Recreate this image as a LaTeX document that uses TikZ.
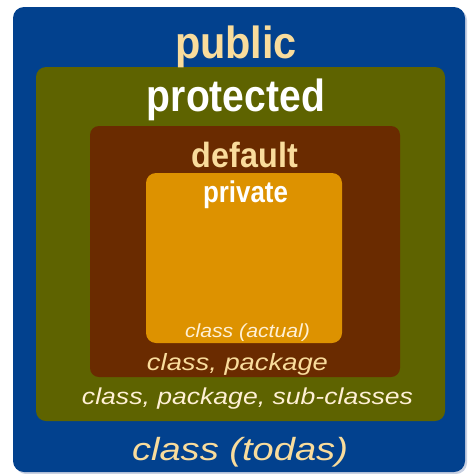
\documentclass[tikz,border=0pt]{standalone}
\usepackage{fontspec}
\setmainfont{Liberation Sans}
\usepackage{graphicx}
\definecolor{cblue}{HTML}{02418E}
\definecolor{colive}{HTML}{5E6300}
\definecolor{cbrown}{HTML}{6A2B00}
\definecolor{corange}{HTML}{DD9200}
\definecolor{cyel}{HTML}{F9DC9C}
\definecolor{ccream}{HTML}{FFF0D4}
\definecolor{cshadow}{HTML}{C9D1E2}
\newcommand{\fitw}[3]{\resizebox{#1pt}{\height}{\fontsize{#2}{#2}\selectfont #3}}
\tikzset{
  zone/.style={draw=none},
  lbl/.style={anchor=base, inner sep=0pt, outer sep=0pt},
  bold/.style={lbl, font=\bfseries},
  ital/.style={lbl, font=\itshape}
}
\begin{document}
\begin{tikzpicture}[x=1pt,y=-1pt]
\useasboundingbox (0,0) rectangle (474,474);
\fill[cshadow, rounded corners=11pt] (15,9) rectangle (467,474);
\fill[cblue, rounded corners=11pt] (13,7) rectangle (465,472);
\fill[colive, rounded corners=10pt] (36,67) rectangle (445,421);
\fill[cbrown, rounded corners=9pt] (90,126) rectangle (400,377);
\fill[corange, rounded corners=10pt] (146,173) rectangle (342,343);
\node[bold, text=cyel] (pub) at (236,58) {\fitw{122}{45}{public}};
\node[bold, text=white] (prot) at (236,111) {\fitw{178}{45}{protected}};
\node[bold, text=cyel] (def) at (245,167) {\fitw{106}{35}{default}};
\node[bold, text=white] (priv) at (245.5,202) {\fitw{85}{30}{private}};
\node[ital, text=ccream] (ca) at (247.5,337) {\fitw{125}{19}{class (actual)}};
\node[ital, text=cyel] (cp) at (237.5,370) {\fitw{181}{23.5}{class, package}};
\node[ital, text=ccream] (cps) at (247.5,404) {\fitw{331}{23}{class, package, sub-classes}};
\node[ital, text=cyel] (ct) at (240,460) {\fitw{216}{32}{class (todas)}};
\end{tikzpicture}
\end{document}
